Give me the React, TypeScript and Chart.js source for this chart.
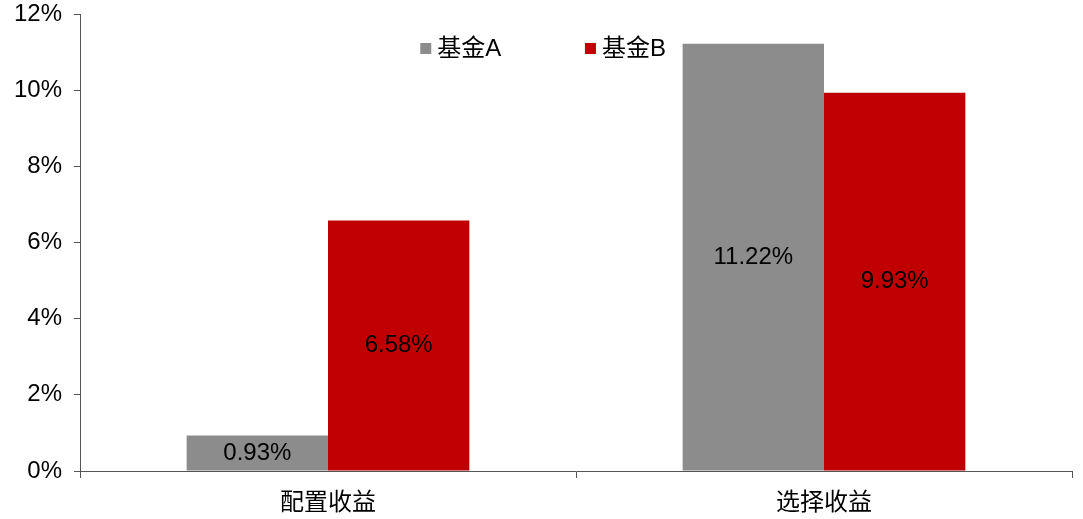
import { useEffect, useRef } from "react";
import Chart from "chart.js/auto";

const categories = ["配置收益", "选择收益"];
const fundA = [0.93, 11.22];
const fundB = [6.58, 9.93];
const seriesNames = ["基金A", "基金B"];
const colors = ["#8c8c8c", "#c00000"];
const yTicks = [0, 2, 4, 6, 8, 10, 12];

const FONT = '"Liberation Sans", Arial, "Noto Sans CJK SC", sans-serif';

// labels in the middle of each bar
const barLabels = {
  id: "barLabels",
  afterDatasetsDraw(chart: any) {
    const ctx = chart.ctx;
    ctx.save();
    ctx.font = `24px ${FONT}`;
    ctx.fillStyle = "#000";
    ctx.textAlign = "center";
    ctx.textBaseline = "middle";
    chart.data.datasets.forEach((ds: any, i: number) => {
      chart.getDatasetMeta(i).data.forEach((bar: any, j: number) => {
        const mid = (bar.y + bar.base) / 2;
        ctx.fillText(ds.data[j].toFixed(2) + "%", bar.x, mid);
      });
    });
    ctx.restore();
  },
};

// legend drawn inside the plot area
const innerLegend = {
  id: "innerLegend",
  afterDraw(chart: any) {
    const { ctx, chartArea } = chart;
    const w = chartArea.right - chartArea.left;
    const starts = [0.343, 0.509];
    const y = chartArea.top + 34;
    ctx.save();
    ctx.font = `24px ${FONT}`;
    ctx.textBaseline = "middle";
    ctx.textAlign = "left";
    seriesNames.forEach((name, i) => {
      const x = chartArea.left + w * starts[i];
      ctx.fillStyle = colors[i];
      ctx.fillRect(x, y - 5, 11, 11);
      ctx.fillStyle = "#000";
      ctx.fillText(name, x + 17, y + 1);
    });
    ctx.restore();
  },
};

const App = () => {
  const canvasRef = useRef<HTMLCanvasElement>(null);

  useEffect(() => {
    const ctx = canvasRef.current?.getContext("2d");
    if (!ctx) return;

    const chart = new Chart(ctx, {
      type: "bar",
      data: {
        labels: categories,
        datasets: [
          { label: seriesNames[0], data: fundA, backgroundColor: colors[0] },
          { label: seriesNames[1], data: fundB, backgroundColor: colors[1] },
        ],
      },
      options: {
        animation: false,
        responsive: false,
        layout: { padding: { top: 14, right: 11, left: 0, bottom: 0 } },
        datasets: {
          bar: { categoryPercentage: 0.57, barPercentage: 1 },
        },
        plugins: {
          legend: { display: false },
          tooltip: { enabled: false },
        },
        scales: {
          x: {
            grid: {
              display: true,
              drawOnChartArea: false,
              drawTicks: true,
              tickLength: 7,
              color: "#555",
            },
            border: { display: true, color: "#555", width: 1 },
            ticks: {
              color: "#000",
              padding: 8,
              font: { family: '"Noto Sans CJK SC", sans-serif', size: 24 },
            },
            afterFit: (s: any) => {
              s.height = 48;
            },
          },
          y: {
            min: 0,
            max: 12,
            afterBuildTicks: (s: any) => {
              s.ticks = yTicks.map((v) => ({ value: v }));
            },
            grid: {
              display: true,
              drawOnChartArea: false,
              drawTicks: true,
              tickLength: 6,
              color: "#555",
            },
            border: { display: true, color: "#555", width: 1 },
            ticks: {
              color: "#000",
              padding: 12,
              font: { family: FONT, size: 24 },
              callback: (v: any) => v + "%",
            },
            afterFit: (s: any) => {
              s.width = 80;
              s.paddingTop = 0;
              s.paddingBottom = 0;
            },
          },
        },
      },
      plugins: [barLabels, innerLegend],
    });

    return () => {
      chart.destroy();
    };
  }, []);

  return (
    <div style={{ position: "absolute", left: 0, top: 0, width: 1083, height: 519, background: "#fff" }}>
      <canvas ref={canvasRef} width={1083} height={519}></canvas>
    </div>
  );
};

export default App;
